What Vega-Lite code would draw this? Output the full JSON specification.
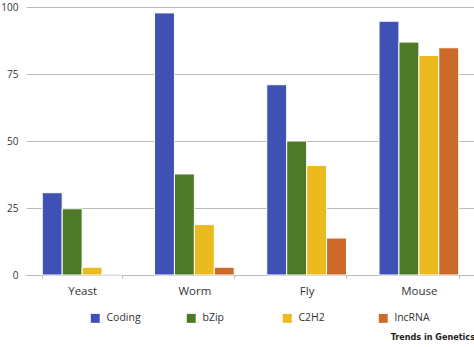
{
  "$schema": "https://vega.github.io/schema/vega-lite/v6.json",
  "autosize": "none",
  "width": 449,
  "height": 268,
  "padding": {"left": 26, "top": 7, "right": 0, "bottom": 72},
  "background": "white",
  "config": {
    "view": {"stroke": null},
    "font": "Open Sans"
  },
  "title": {
    "text": "Trends in Genetics",
    "orient": "bottom",
    "anchor": "end",
    "fontSize": 9,
    "fontWeight": "bold",
    "font": "DejaVu Sans Condensed",
    "color": "#222",
    "offset": 9
  },
  "data": {
    "values": [
      {"organism": "Yeast", "type": "Coding", "value": 30.7},
      {"organism": "Yeast", "type": "bZip", "value": 24.7},
      {"organism": "Yeast", "type": "C2H2", "value": 2.9},
      {"organism": "Yeast", "type": "lncRNA", "value": 0.3},
      {"organism": "Worm", "type": "Coding", "value": 97.8},
      {"organism": "Worm", "type": "bZip", "value": 37.7},
      {"organism": "Worm", "type": "C2H2", "value": 18.8},
      {"organism": "Worm", "type": "lncRNA", "value": 2.9},
      {"organism": "Fly", "type": "Coding", "value": 71},
      {"organism": "Fly", "type": "bZip", "value": 50},
      {"organism": "Fly", "type": "C2H2", "value": 40.9},
      {"organism": "Fly", "type": "lncRNA", "value": 13.8},
      {"organism": "Mouse", "type": "Coding", "value": 94.7},
      {"organism": "Mouse", "type": "bZip", "value": 86.9},
      {"organism": "Mouse", "type": "C2H2", "value": 81.9},
      {"organism": "Mouse", "type": "lncRNA", "value": 84.8}
    ]
  },
  "mark": {"type": "bar", "stroke": "white", "strokeWidth": 1},
  "encoding": {
    "x": {
      "field": "organism",
      "type": "nominal",
      "sort": ["Yeast", "Worm", "Fly", "Mouse"],
      "scale": {"paddingInner": 0.29, "paddingOuter": 0.145},
      "axis": {
        "title": null,
        "labelAngle": 0,
        "labelFontSize": 11.5,
        "labelColor": "#333",
        "labelPadding": 7,
        "domainColor": "#bbb",
        "tickColor": "#bbb",
        "tickSize": 3,
        "tickBand": "extent"
      }
    },
    "xOffset": {
      "field": "type",
      "type": "nominal",
      "sort": ["Coding", "bZip", "C2H2", "lncRNA"]
    },
    "y": {
      "field": "value",
      "type": "quantitative",
      "scale": {"domain": [0, 100], "nice": false},
      "axis": {
        "title": null,
        "values": [0, 25, 50, 75, 100],
        "domain": false,
        "ticks": false,
        "labelFontSize": 10,
        "labelColor": "#333",
        "labelPadding": 8,
        "gridColor": "#bbb",
        "gridWidth": 1
      }
    },
    "color": {
      "field": "type",
      "type": "nominal",
      "sort": ["Coding", "bZip", "C2H2", "lncRNA"],
      "scale": {
        "domain": ["Coding", "bZip", "C2H2", "lncRNA"],
        "range": ["#3F51B5", "#4E7A27", "#EBBA1E", "#CC6A29"]
      },
      "legend": {
        "title": null,
        "orient": "none",
        "legendX": 64,
        "legendY": 306,
        "direction": "horizontal",
        "columns": 4,
        "gridAlign": "all",
        "columnPadding": 44,
        "symbolType": "square",
        "symbolSize": 80,
        "symbolStrokeWidth": 0,
        "labelFontSize": 10.5,
        "labelColor": "#333",
        "labelOffset": 6
      }
    }
  }
}
